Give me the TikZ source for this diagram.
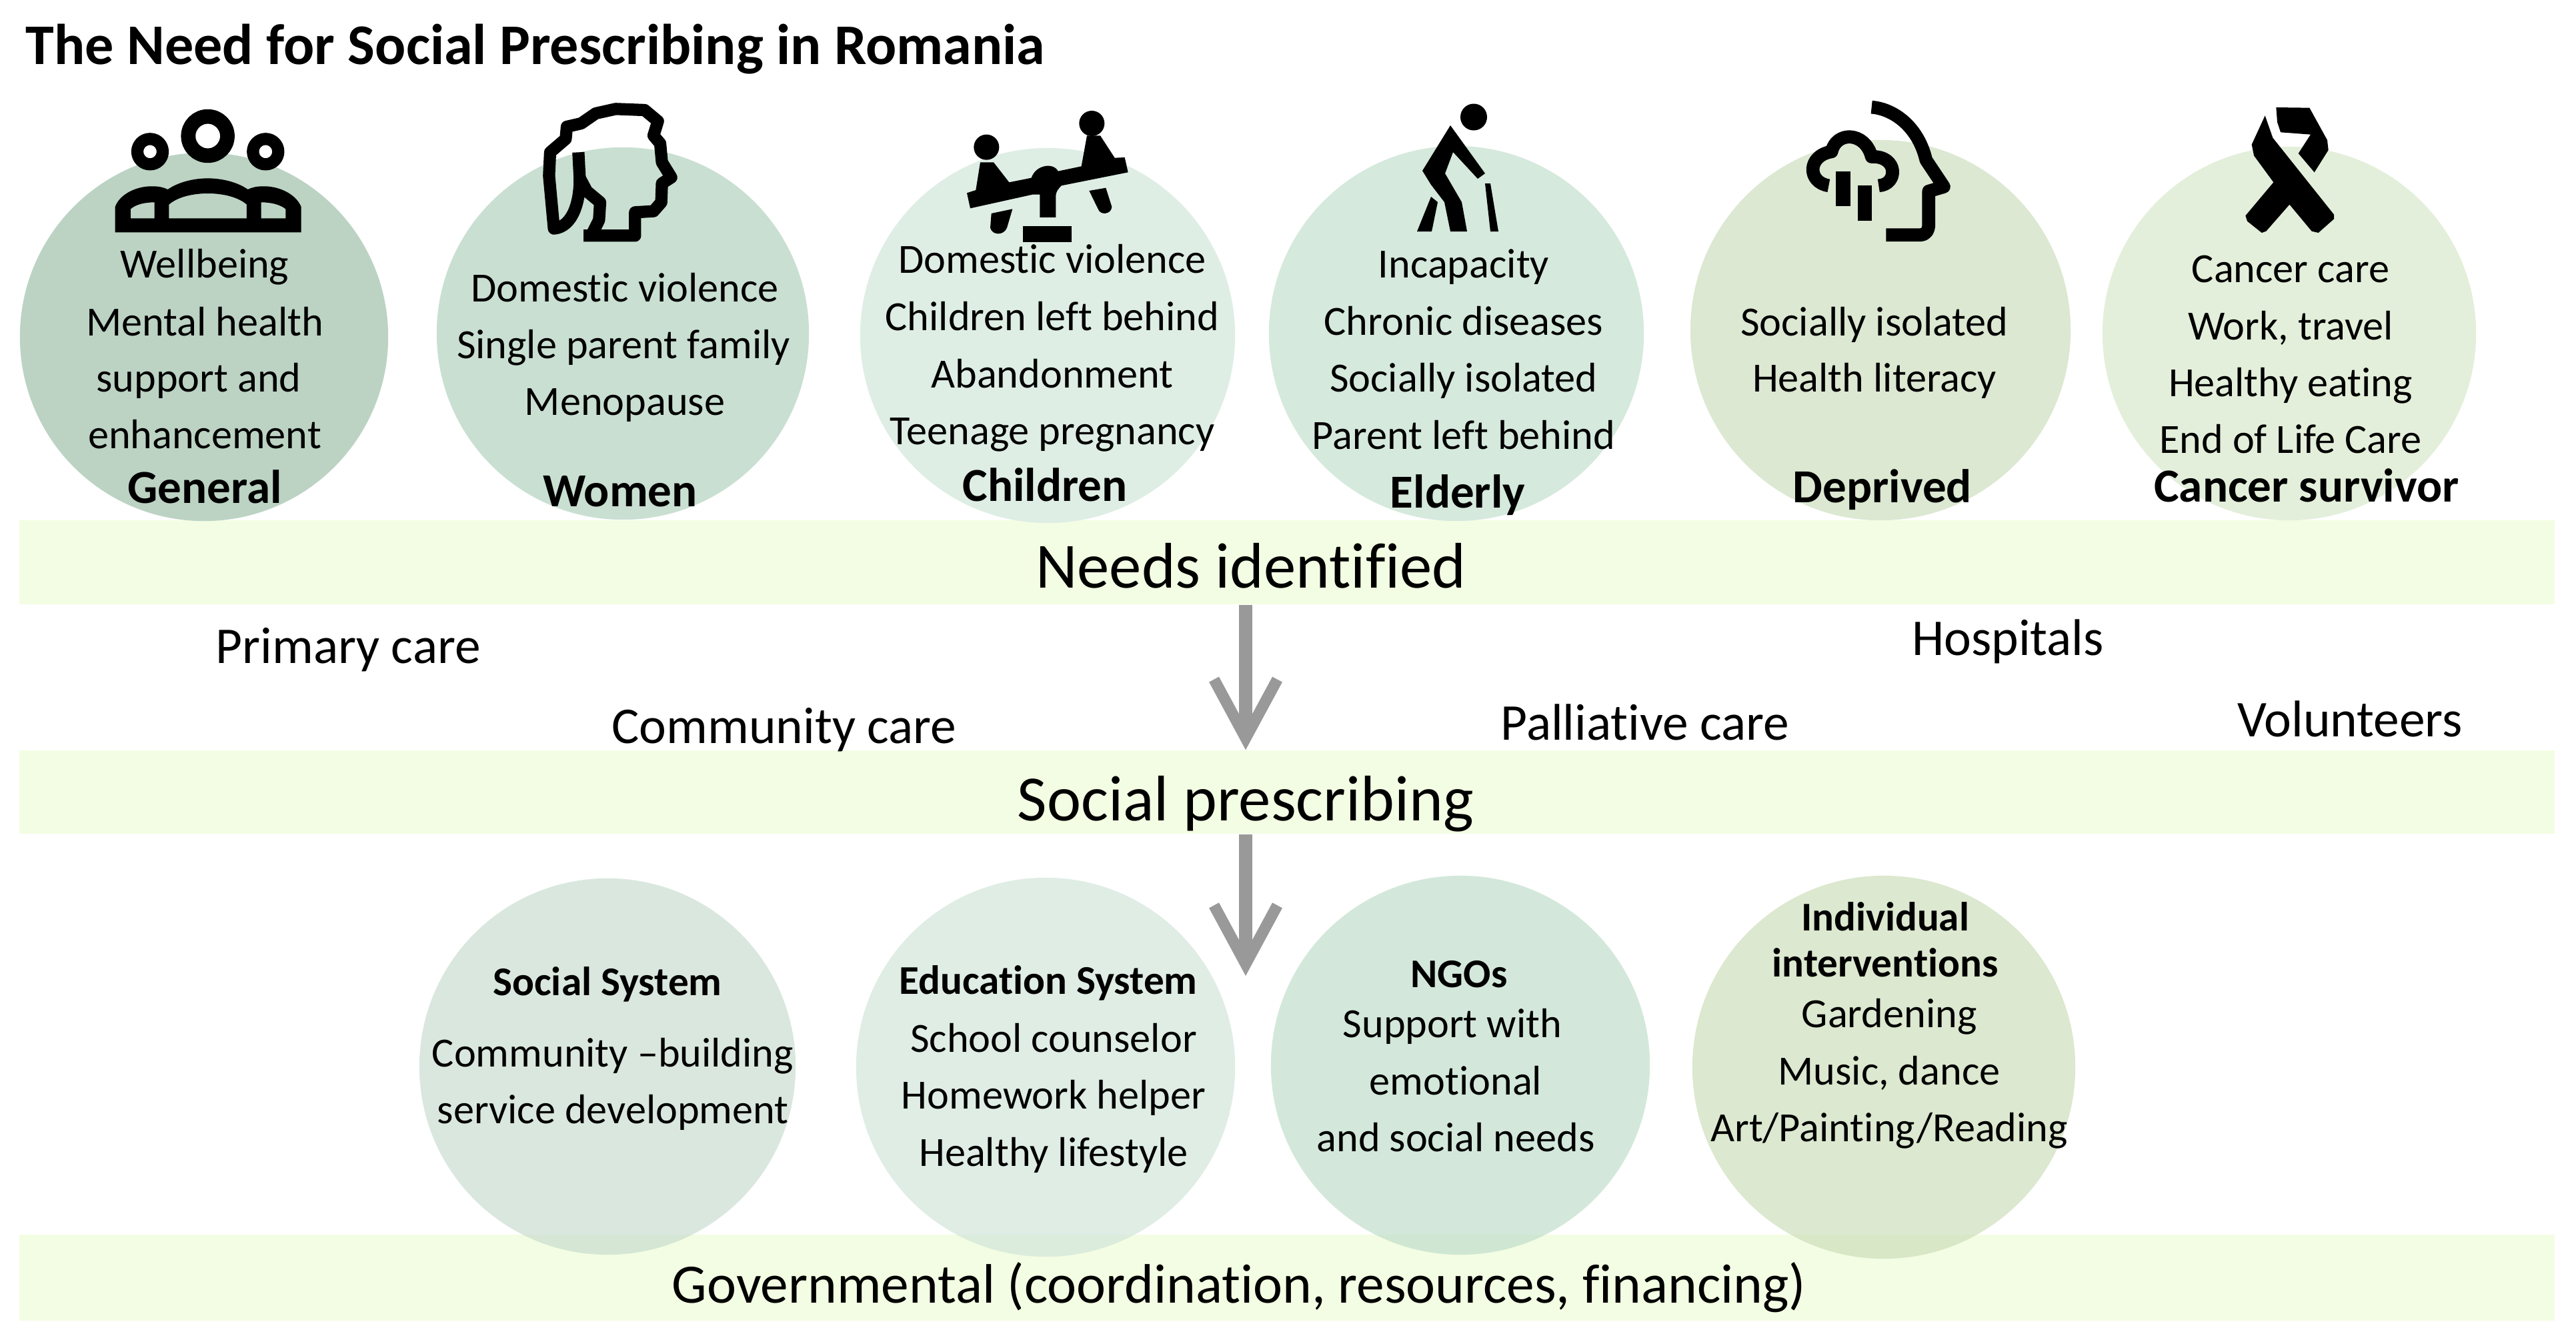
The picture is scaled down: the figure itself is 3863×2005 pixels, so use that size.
\documentclass[tikz,border=0pt]{standalone}
\usepackage{fontspec}
\setmainfont{Carlito}[Ligatures=NoCommon]
\usetikzlibrary{arrows.meta}

\definecolor{bandfill}{HTML}{F3FDE3}
\definecolor{generalfill}{HTML}{BCD3C4}
\definecolor{womenfill}{HTML}{C9DFD2}
\definecolor{childrenfill}{HTML}{DFEEE5}
\definecolor{elderlyfill}{HTML}{D5E9DC}
\definecolor{deprivedfill}{HTML}{DCE8D2}
\definecolor{cancerfill}{HTML}{E3EFDA}
\definecolor{socialfill}{RGB}{202,221,208}
\definecolor{educationfill}{RGB}{209,229,218}
\definecolor{ngofill}{RGB}{192,222,203}
\definecolor{individualfill}{RGB}{205,222,186}
\definecolor{arrowgrey}{HTML}{999999}

\begin{document}
\begin{tikzpicture}[x=0.01cm,y=-0.01cm,
  band/.style={rectangle,fill=bandfill,minimum width=38cm,minimum height=#1,inner sep=0pt},
  blob/.style={circle,minimum size=#1,inner sep=0pt},
  soft/.style={fill opacity=0.7},
  item/.style={anchor=base,inner sep=0pt,yshift=-0.025cm,font=\fontsize{17.7}{21}\selectfont},
  group/.style={anchor=base,inner sep=0pt,yshift=-0.025cm,font=\fontsize{20.2}{24}\selectfont\bfseries},
  head/.style={anchor=base,inner sep=0pt,yshift=-0.025cm,font=\fontsize{17.4}{21}\selectfont\bfseries},
  place/.style={anchor=base,inner sep=0pt,font=\fontsize{22}{26}\selectfont},
  stage/.style={anchor=base,inner sep=0pt,font=\fontsize{27.5}{32}\selectfont},
  flow/.style={draw=arrowgrey,line width=5.6pt,-{Straight Barb[length=25pt,width=27pt,line width=4.8pt]}},
  ink/.style={draw=black,line width=#1,line join=round},
  ink/.default=5.2pt]
  \useasboundingbox (0,0) rectangle (3863,2005);

  \node[band=1.26cm] (needsband) at (1930,843) {};
  \node[band=1.25cm] (prescband) at (1930,1187.5) {};
  \node[band=1.29cm] (govband) at (1930,1915.5) {};

  \node[blob=5.52cm,fill=generalfill] (general) at (306,505) {};
  \node[blob=5.58cm,fill=womenfill] (women) at (934,500) {};
  \node[blob=5.62cm,fill=childrenfill] (children) at (1571,503) {};
  \node[blob=5.62cm,fill=elderlyfill] (elderly) at (2184,500) {};
  \node[blob=5.70cm,fill=deprivedfill] (deprived) at (2820,495) {};
  \node[blob=5.60cm,fill=cancerfill] (cancer) at (3433,500) {};
  \node[blob=5.64cm,soft,fill=socialfill] (social) at (911,1599) {};
  \node[blob=5.68cm,soft,fill=educationfill] (education) at (1568,1600) {};
  \node[blob=5.68cm,soft,fill=ngofill] (ngos) at (2190,1597) {};
  \node[blob=5.74cm,soft,fill=individualfill] (individual) at (2825,1600) {};

  \coordinate (flowx) at (1868,0);
  \coordinate (flowend) at (1868,1463);
  \draw[flow] (needsband.south -| flowx) -- (prescband.north -| flowx);
  \draw[flow] (prescband.south -| flowx) -- (flowend);

  \begin{scope}[shift={(150,150)},scale=0.3333]
    \draw[ink=6.2pt] (485,162) circle (88);
    \draw[ink=5.2pt] (225,232) circle (57);
    \draw[ink=5.2pt] (745,232) circle (57);
    \fill[even odd rule] (68,595) -- (68,480) .. controls (90,420) and (170,385) .. (240,388)
      .. controls (270,388) and (290,395) .. (305,402) .. controls (350,370) and (420,352) .. (485,352)
      .. controls (550,352) and (620,370) .. (665,402) .. controls (680,395) and (700,388) .. (730,388)
      .. controls (800,385) and (880,420) .. (905,480) -- (905,595) -- cycle
      (138,532) -- (138,490) .. controls (160,470) and (200,460) .. (245,460) -- (245,532) -- cycle
      (310,532) -- (310,470) .. controls (350,435) and (420,420) .. (485,420)
      .. controls (550,420) and (620,435) .. (660,470) -- (660,532) -- cycle
      (725,532) -- (725,460) .. controls (770,460) and (810,470) .. (835,490) -- (835,532) -- cycle;
  \end{scope}

  \begin{scope}[shift={(790,140)},scale=0.3333]
    \draw[ink] (232,265) -- (238,380) .. controls (240,480) and (210,600) .. (122,608) -- (100,370)
      -- (105,265) -- (175,205) -- (180,150) -- (245,135) -- (310,90) -- (400,70) -- (530,75)
      -- (590,125) -- (570,190) -- (600,225) -- (608,310) -- (650,378) -- (608,405) -- (605,490)
      -- (570,530) -- (487,535) -- (487,640) -- (255,640);
    \draw[ink] (238,380) -- (270,440) -- (330,490) -- (325,570) -- (285,650);
  \end{scope}

  \begin{scope}[shift={(1430,150)},scale=0.3333]
    \fill (148,212) circle (57);
    \fill (622,105) circle (57);
    \fill (60,418) -- (100,405) -- (120,280) -- (180,280) -- (250,370) -- (350,350)
      .. controls (370,290) and (450,280) .. (470,320) -- (575,298) -- (600,160) -- (660,160)
      -- (725,260) -- (770,258) -- (785,325) -- (485,385) .. controls (470,400) and (460,415) .. (460,430)
      -- (460,528) -- (388,528) -- (388,425) -- (355,425) -- (75,487) -- cycle;
    \fill (170,510) -- (265,490) -- (240,575) .. controls (225,610) and (175,610) .. (165,575) -- cycle;
    \fill (610,408) -- (685,395) -- (712,480) .. controls (710,515) and (660,520) .. (650,490) -- cycle;
    \fill (312,567) rectangle (532,638);
  \end{scope}

  \fill (2210,175.5) circle (20);
  \fill (2175,188) -- (2227,260) -- (2216,268) -- (2179,228) -- (2167,260) -- (2192,303)
    -- (2200,347) -- (2175,347) -- (2166,303) -- (2146,277) -- (2133,256) -- cycle;
  \fill (2146,295) -- (2156,303) -- (2147,347) -- (2125,347) -- cycle;
  \fill (2227,275) -- (2235,275) -- (2247,347) -- (2235,347) -- cycle;

  \begin{scope}[shift={(2680,140)},scale=0.3333]
    \draw[ink=5.6pt] (380,62) .. controls (480,70) and (590,150) .. (625,300) -- (705,420) -- (637,440)
      -- (637,590) .. controls (637,620) and (620,637) .. (600,637) -- (445,637);
    \draw[ink=5.6pt] (187,415) .. controls (90,400) and (90,280) .. (200,262)
      .. controls (220,170) and (350,170) .. (380,285) .. controls (500,280) and (500,410) .. (412,415);
    \fill (220,350) rectangle (284,508);
    \fill (317,413) rectangle (380,573);
  \end{scope}

  \begin{scope}[shift={(3350,150)},scale=0.3333]
    \fill (140,70) -- (80,200) -- (90,250) -- (178,370) -- (52,520) -- (60,545) -- (125,597)
      -- (145,590) -- (250,470) -- (350,590) -- (380,597) -- (450,535) -- (450,515) -- (175,170) -- cycle;
    \fill (190,33) -- (340,35) -- (420,180) -- (425,225) -- (362,325) -- (290,240) -- (345,155)
      -- (210,145) -- (195,100) -- cycle;
  \end{scope}

  \node[anchor=base west,inner sep=0pt,font=\fontsize{24.5}{29}\selectfont\bfseries] (title) at (38,96)
    {The Need for Social Prescribing in Romania};

  \node[item] (general1) at (307,414) {Wellbeing};
  \node[item] (general2) at (307,501) {Mental health};
  \node[item] (general3) at (298,585) {support and};
  \node[item] (general4) at (307,670) {enhancement};
  \node[group] (generalname) at (307,752) {General};

  \node[item] (women1) at (937,450) {Domestic violence};
  \node[item] (women2) at (935,535) {Single parent family};
  \node[item] (women3) at (937,620) {Menopause};
  \node[group] (womenname) at (930,757) {Women};

  \node[item] (children1) at (1578,407) {Domestic violence};
  \node[item] (children2) at (1578,493) {Children left behind};
  \node[item] (children3) at (1578,579) {Abandonment};
  \node[item] (children4) at (1578,664) {Teenage pregnancy};
  \node[group] (childrenname) at (1567,749) {Children};

  \node[item] (elderly1) at (2195,414) {Incapacity};
  \node[item] (elderly2) at (2195,500) {Chronic diseases};
  \node[item] (elderly3) at (2195,585) {Socially isolated};
  \node[item] (elderly4) at (2195,671) {Parent left behind};
  \node[group] (elderlyname) at (2186,759) {Elderly};

  \node[item] (deprived1) at (2811,501) {Socially isolated};
  \node[item] (deprived2) at (2811,585) {Health literacy};
  \node[group] (deprivedname) at (2823,751) {Deprived};

  \node[item] (cancer1) at (3435,421) {Cancer care};
  \node[item] (cancer2) at (3435,507) {Work, travel};
  \node[item] (cancer3) at (3435,592) {Healthy eating};
  \node[item] (cancer4) at (3435,677) {End of Life Care};
  \node[group] (cancername) at (3459,750) {Cancer survivor};

  \node[stage] (needs) at (1876,881) {Needs identified};
  \node[stage] (prescribing) at (1868,1230) {Social prescribing};
  \node[stage,font=\fontsize{23.7}{28}\selectfont] (governmental) at (1858,1953) {Governmental (coordination, resources, financing)};

  \node[place] (primary) at (522,994) {Primary care};
  \node[place] (community) at (1176,1114) {Community care};
  \node[place] (hospitals) at (3011,982) {Hospitals};
  \node[place] (palliative) at (2467,1109) {Palliative care};
  \node[place] (volunteers) at (3524,1104) {Volunteers};

  \node[head] (socialname) at (911,1490) {Social System};
  \node[item] (social1) at (919,1597) {Community --building};
  \node[item] (social2) at (919,1682) {service development};

  \node[head] (educationname) at (1572,1488) {Education System};
  \node[item] (education1) at (1580,1575) {School counselor};
  \node[item] (education2) at (1580,1660) {Homework helper};
  \node[item] (education3) at (1580,1746) {Healthy lifestyle};

  \node[head] (ngosname) at (2188,1478) {NGOs};
  \node[item] (ngos1) at (2178,1553) {Support with};
  \node[item] (ngos2) at (2183,1639) {emotional};
  \node[item] (ngos3) at (2183,1724) {and social needs};

  \node[head] (individualname) at (2827,1393) {Individual};
  \node[head] (individualname2) at (2827,1462) {interventions};
  \node[item] (individual1) at (2833,1538) {Gardening};
  \node[item] (individual2) at (2833,1624) {Music, dance};
  \node[item] (individual3) at (2833,1709) {Art/Painting/Reading};
\end{tikzpicture}
\end{document}
